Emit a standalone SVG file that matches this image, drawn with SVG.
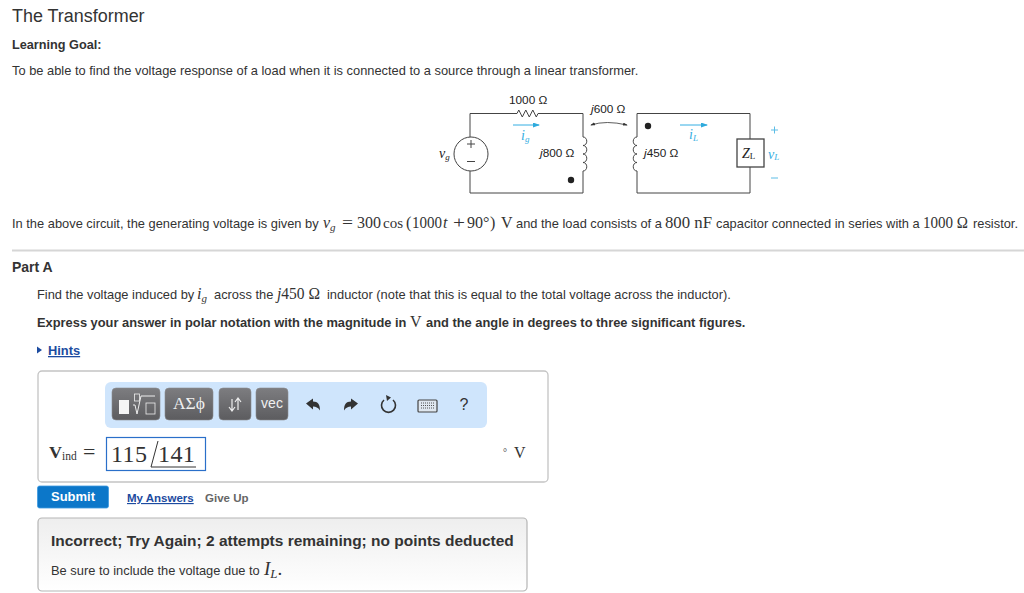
<svg xmlns="http://www.w3.org/2000/svg" width="1024" height="593" viewBox="0 0 1024 593">
<defs>
<linearGradient id="btn" x1="0" y1="0" x2="0" y2="1"><stop offset="0" stop-color="#7d7d80"/><stop offset="1" stop-color="#5c5c5f"/></linearGradient>
<linearGradient id="fb" x1="0" y1="0" x2="0" y2="1"><stop offset="0" stop-color="#eeeeee"/><stop offset="1" stop-color="#ffffff"/></linearGradient>
<marker id="ah" markerWidth="7" markerHeight="5" refX="6" refY="2.5" orient="auto-start-reverse"><path d="M0 0L7 2.5L0 5Z" fill="#2eaadc"/></marker>
<marker id="ak" markerWidth="6" markerHeight="4" refX="5" refY="2" orient="auto-start-reverse"><path d="M0 0L6 2L0 4Z" fill="#333"/></marker>
</defs>
<style>
text{font-family:"Liberation Sans",Arial,sans-serif;fill:#333;font-size:12.870px}
.b{font-weight:700}
.m{font-family:"Liberation Serif","Times New Roman",serif;font-size:16px}
.i{font-style:italic}
.c{font-family:"Liberation Serif","Times New Roman",serif;font-size:14px;fill:#222}
.cs{font-family:"Liberation Sans",Arial,sans-serif;font-size:11.800px;fill:#222}
.cb{fill:#35aee2}
.w{fill:none;stroke:#444;stroke-width:1}
.tb{fill:url(#btn);stroke:#8c8c8f;stroke-width:.6}
.bt{fill:#f5f5f5}
.link{fill:#1c4ba0;font-weight:700;text-decoration:underline}
</style>
<rect width="1024" height="593" fill="#fff"/>
<g id="header">
<text x="12" y="22" style="font-size:17.950px">The Transformer</text>
<text x="12" y="49" class="b" style="font-size:12.700px">Learning Goal:</text>
<text x="12" y="75">To be able to find the voltage response of a load when it is connected to a source through a linear transformer.</text>
</g>
<g id="circuit-connectors">
<path class="w" d="M470 137V113.500H517M538 113.500H583V137M583 171V193H470V171"/>
<path class="w" d="M517 113.500l1.800-3.500l3.500 7l3.500-7l3.500 7l3.500-7l3.500 7l1.700-3.500"/>
<path class="w" d="M583 137c5 0 5 8.500 0 8.500c5 0 5 8.500 0 8.500c5 0 5 8.500 0 8.500c5 0 5 8.500 0 8.500"/>
<path class="w" d="M637 137V113.500H750V139M750 167V193H637V171"/>
<path class="w" d="M637 137c-5 0-5 8.500 0 8.500c-5 0-5 8.500 0 8.500c-5 0-5 8.500 0 8.500c-5 0-5 8.500 0 8.500"/>
<path d="M591 125Q606 120 627 125" fill="none" stroke="#333" stroke-width=".8" marker-start="url(#ak)" marker-end="url(#ak)"/>
<path d="M513 125H539" stroke="#35aee2" stroke-width="1" marker-end="url(#ah)"/>
<path d="M680 125H707" stroke="#35aee2" stroke-width="1" marker-end="url(#ah)"/>
</g>
<g id="source">
<circle cx="471" cy="154" r="17" fill="#fff" stroke="#444"/>
<path d="M471 140v8M467 144h8M467 161.500h8" stroke="#444" fill="none"/>
<text x="439" y="158" class="c i">v<tspan font-size="9" dy="2">g</tspan></text>
</g>
<g id="resistor-label"><text x="509" y="104" class="cs">1000 Ω</text></g>
<g id="mutual-label"><text x="591" y="113" class="cs"><tspan class="i">j</tspan>600 Ω</text></g>
<g id="primary">
<text x="540" y="157" class="cs"><tspan class="i">j</tspan>800 Ω</text>
<circle cx="571" cy="180" r="3.200" fill="#222"/>
<text x="521" y="140" class="c i cb">i<tspan font-size="9" dy="2">g</tspan></text>
</g>
<g id="secondary">
<text x="644" y="157" class="cs"><tspan class="i">j</tspan>450 Ω</text>
<circle cx="648" cy="126" r="3.200" fill="#222"/>
<text x="689" y="139" class="c i cb">i<tspan font-size="9" dy="2">L</tspan></text>
</g>
<g id="load">
<rect x="737" y="139" width="27" height="28" fill="#fff" stroke="#444" stroke-width="1.300"/>
<text x="742" y="158" class="c"><tspan class="i">Z</tspan><tspan font-size="9" dy="1">L</tspan></text>
<text x="768" y="159" class="c i cb">v<tspan font-size="9" dy="1">L</tspan></text>
<path d="M771 130h7M774.500 126.500v7M771 178h7" stroke="#5cbde6" stroke-width="1" fill="none"/>
</g>
<g id="statement">
<text x="12" y="228">In the above circuit, the generating voltage is given by</text>
<text x="323" y="228" class="m i">v<tspan font-size="11" dy="3">g</tspan></text>
<text x="342" y="228" class="m" textLength="11" lengthAdjust="spacingAndGlyphs">=</text>
<text x="357" y="228" class="m">300</text>
<text x="383" y="228" class="m" style="font-size:15px">cos</text>
<text x="406" y="228" class="m">(</text>
<text x="412" y="228" class="m" textLength="30" lengthAdjust="spacingAndGlyphs">1000</text>
<text x="443" y="228" class="m i">t</text>
<text x="453" y="228" class="m" textLength="12" lengthAdjust="spacingAndGlyphs">+</text>
<text x="467" y="228" class="m">90°</text>
<text x="490" y="228" class="m">)</text>
<text x="501" y="228" class="m">V</text>
<text x="516" y="228">and the load consists of a</text>
<text x="665" y="228" class="m" textLength="47" lengthAdjust="spacingAndGlyphs">800 nF</text>
<text x="716" y="228">capacitor connected in series with a</text>
<text x="923" y="228" class="m" textLength="45" lengthAdjust="spacingAndGlyphs">1000 Ω</text>
<text x="973" y="228">resistor.</text>
<rect x="12" y="249.500" width="1012" height="2" fill="#d6d6d6"/>
</g>
<g id="part-a">
<text x="12" y="272" class="b" style="font-size:14px">Part A</text>
<text x="37" y="299">Find the voltage induced by</text>
<text x="197" y="299" class="m i">i<tspan font-size="11" dy="3">g</tspan></text>
<text x="214" y="299">across the</text>
<text x="277" y="299" class="m" textLength="43" lengthAdjust="spacingAndGlyphs"><tspan class="i">j</tspan>450 Ω</text>
<text x="327" y="299">inductor (note that this is equal to the total voltage across the inductor).</text>
<text x="37" y="327" class="b">Express your answer in polar notation with the magnitude in</text>
<text x="410" y="327" class="m">V</text>
<text x="426" y="327" class="b">and the angle in degrees to three significant figures.</text>
<path d="M37 346.500l5 3.500l-5 3.500z" fill="#1c4ba0"/>
<text x="48" y="355" class="link">Hints</text>
</g>
<g id="answer-box">
<rect x="38" y="371" width="510" height="111" rx="4" fill="#fff" stroke="#c4c4c4" stroke-width="1.300"/>
</g>
<g id="toolbar">
<rect x="105" y="382" width="382" height="46" rx="6" fill="#cfe5fc"/>
<rect x="112" y="388" width="48" height="32" rx="4" class="tb"/>
<rect x="119" y="400" width="10" height="14" class="bt"/>
<path d="M133 405h2l2 9l4-18h14" fill="none" stroke="#eee" stroke-width="1"/>
<rect x="134.500" y="394" width="5" height="7" fill="none" stroke="#eee" stroke-width=".8"/>
<rect x="146" y="403" width="9" height="11" fill="none" stroke="#eee" stroke-width=".8"/>
<rect x="165" y="388" width="48" height="32" rx="4" class="tb"/>
<text x="189" y="409" text-anchor="middle" style="font-family:'Liberation Serif',serif;font-size:17.500px;fill:#f0f0f0">ΑΣϕ</text>
<rect x="219" y="388" width="32" height="32" rx="4" class="tb"/>
<path d="M232 399v11M229 407l3 4l3-4M238 410v-11M235 402l3-4l3 4" fill="none" stroke="#eee" stroke-width="1.200"/>
<rect x="256" y="388" width="32" height="32" rx="4" class="tb"/>
<text x="272" y="408" text-anchor="middle" style="font-size:14px;fill:#f0f0f0">vec</text>
<path d="M306 403.500l7-5v3c5 0 7 3 7 9c-2-3-4-4-7-4v3z" fill="#333"/>
<path d="M358 403.500l-7-5v3c-5 0-7 3-7 9c2-3 4-4 7-4v3z" fill="#333"/>
<path d="M384 400a7 7 0 1 0 9 0" fill="none" stroke="#333" stroke-width="1.600"/>
<path d="M386 395l5 2.500l-4 3.500z" fill="#333"/>
<rect x="418" y="400" width="19" height="12" rx="1" fill="#dfe7ef" stroke="#444" stroke-width="1.200"/>
<path d="M421 403h13M421 405.500h13M421 408h13" stroke="#555" stroke-width="1" stroke-dasharray="1 1"/>
<text x="464" y="410" text-anchor="middle" style="font-size:16px">?</text>
</g>
<g id="input">
<text x="49" y="458" class="m b" style="font-size:16px" textLength="13" lengthAdjust="spacingAndGlyphs">V</text>
<text x="62" y="460" class="m" style="font-size:11.500px">ind</text>
<text x="83" y="459" class="m" style="font-size:22px">=</text>
<rect x="106.500" y="437.500" width="99" height="33" fill="#fff" stroke="#2a6fc9" stroke-width="1.200"/>
<text x="111" y="462" class="m" style="font-size:24px;letter-spacing:.4px">115</text>
<path d="M151 467L158 441M151 467H196" fill="none" stroke="#333"/>
<text x="158" y="462" class="m" style="font-size:24px;letter-spacing:.4px">141</text>
<text x="503" y="456" class="m" style="font-size:10px">°</text>
<text x="514" y="458" class="m" style="font-size:16px">V</text>
</g>
<g id="actions">
<rect x="37.500" y="486" width="71" height="22" rx="2" fill="#0c77c9" stroke="#3f9be0" stroke-width=".8"/>
<text x="73" y="501" text-anchor="middle" class="b" style="fill:#fff;font-size:13px">Submit</text>
<text x="127" y="502" class="link" style="font-size:11.500px">My Answers</text>
<text x="205" y="502" class="b" style="fill:#666;font-size:11.500px">Give Up</text>
</g>
<g id="feedback">
<rect x="38" y="518" width="489" height="73" rx="4" fill="url(#fb)" stroke="#b5b5b5" stroke-width="1.200"/>
<text x="51" y="546" class="b" style="font-size:15.470px">Incorrect; Try Again; 2 attempts remaining; no points deducted</text>
<text x="51" y="575">Be sure to include the voltage due to</text>
<text x="264" y="575" class="m i" style="font-size:19px">I<tspan font-size="13" dy="3">L</tspan><tspan dy="-3" style="font-style:normal">.</tspan></text>
</g>
</svg>
